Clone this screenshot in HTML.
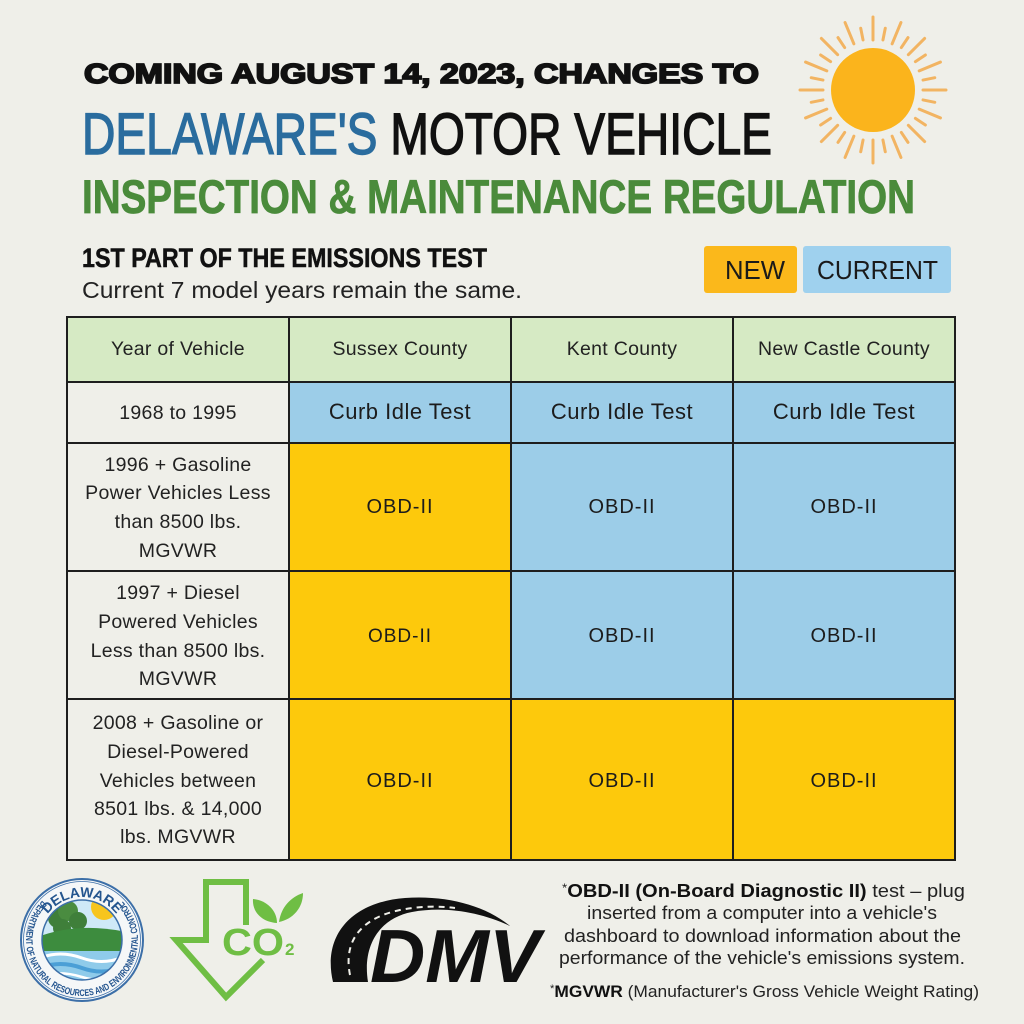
<!DOCTYPE html>
<html><head><meta charset="utf-8">
<style>html,body{margin:0;padding:0;background:#efefe9;}svg{display:block}</style></head>
<body>
<svg width="1024" height="1024" viewBox="0 0 1024 1024" xmlns="http://www.w3.org/2000/svg" font-family="'Liberation Sans', sans-serif">
<defs>
  <clipPath id="inner"><circle cx="82" cy="940" r="40"/></clipPath>
  <path id="sealB" d="M42.4,900.4 A56,56 0 1 0 121.6,900.4"/>
  <path id="sealT" d="M44.8,918.5 A43,43 0 0 1 119.2,918.5"/>
</defs>
<rect width="1024" height="1024" fill="#efefe9"/>

<!-- Titles -->
<text x="84" y="83" font-size="28" font-weight="bold" fill="#111" stroke="#111" stroke-width="1.8" textLength="675" lengthAdjust="spacingAndGlyphs">COMING AUGUST 14, 2023, CHANGES TO</text>
<text x="82" y="154" font-size="58" fill="#111" stroke-width="1.4" textLength="690" lengthAdjust="spacingAndGlyphs"><tspan fill="#2a6c9e" stroke="#2a6c9e">DELAWARE'S</tspan><tspan stroke="#111"> MOTOR VEHICLE</tspan></text>
<text x="82" y="213" font-size="47" font-weight="bold" fill="#4a8b3b" stroke="#4a8b3b" stroke-width="0.8" textLength="833" lengthAdjust="spacingAndGlyphs">INSPECTION &amp; MAINTENANCE REGULATION</text>
<text x="82" y="267" font-size="27" font-weight="bold" fill="#111" stroke="#111" stroke-width="0.5" textLength="405" lengthAdjust="spacingAndGlyphs">1ST PART OF THE EMISSIONS TEST</text>
<text x="82" y="298" font-size="23" fill="#222" textLength="440" lengthAdjust="spacingAndGlyphs">Current 7 model years remain the same.</text>

<!-- Legend -->
<rect x="704" y="246" width="93" height="47" rx="3" fill="#fbb81b"/>
<rect x="803" y="246" width="148" height="47" rx="3" fill="#9fd1ee"/>
<text x="725" y="279" font-size="26" fill="#1a1a1a" textLength="60" lengthAdjust="spacingAndGlyphs">NEW</text>
<text x="817" y="279" font-size="26" fill="#1a1a1a" textLength="121" lengthAdjust="spacingAndGlyphs">CURRENT</text>

<!-- Sun -->
<g stroke="#f2b462" stroke-width="3" stroke-linecap="round">
  <line x1="923" y1="90" x2="946" y2="90" transform="rotate(0 873 90)"/>
  <line x1="923" y1="90" x2="946" y2="90" transform="rotate(22.5 873 90)"/>
  <line x1="923" y1="90" x2="946" y2="90" transform="rotate(45 873 90)"/>
  <line x1="923" y1="90" x2="946" y2="90" transform="rotate(67.5 873 90)"/>
  <line x1="923" y1="90" x2="946" y2="90" transform="rotate(90 873 90)"/>
  <line x1="923" y1="90" x2="946" y2="90" transform="rotate(112.5 873 90)"/>
  <line x1="923" y1="90" x2="946" y2="90" transform="rotate(135 873 90)"/>
  <line x1="923" y1="90" x2="946" y2="90" transform="rotate(157.5 873 90)"/>
  <line x1="923" y1="90" x2="946" y2="90" transform="rotate(180 873 90)"/>
  <line x1="923" y1="90" x2="946" y2="90" transform="rotate(202.5 873 90)"/>
  <line x1="923" y1="90" x2="946" y2="90" transform="rotate(225 873 90)"/>
  <line x1="923" y1="90" x2="946" y2="90" transform="rotate(247.5 873 90)"/>
  <line x1="923" y1="90" x2="946" y2="90" transform="rotate(270 873 90)"/>
  <line x1="923" y1="90" x2="946" y2="90" transform="rotate(292.5 873 90)"/>
  <line x1="923" y1="90" x2="946" y2="90" transform="rotate(315 873 90)"/>
  <line x1="923" y1="90" x2="946" y2="90" transform="rotate(337.5 873 90)"/>
  <line x1="924" y1="90" x2="936" y2="90" transform="rotate(11.25 873 90)"/>
  <line x1="924" y1="90" x2="936" y2="90" transform="rotate(33.75 873 90)"/>
  <line x1="924" y1="90" x2="936" y2="90" transform="rotate(56.25 873 90)"/>
  <line x1="924" y1="90" x2="936" y2="90" transform="rotate(78.75 873 90)"/>
  <line x1="924" y1="90" x2="936" y2="90" transform="rotate(101.25 873 90)"/>
  <line x1="924" y1="90" x2="936" y2="90" transform="rotate(123.75 873 90)"/>
  <line x1="924" y1="90" x2="936" y2="90" transform="rotate(146.25 873 90)"/>
  <line x1="924" y1="90" x2="936" y2="90" transform="rotate(168.75 873 90)"/>
  <line x1="924" y1="90" x2="936" y2="90" transform="rotate(191.25 873 90)"/>
  <line x1="924" y1="90" x2="936" y2="90" transform="rotate(213.75 873 90)"/>
  <line x1="924" y1="90" x2="936" y2="90" transform="rotate(236.25 873 90)"/>
  <line x1="924" y1="90" x2="936" y2="90" transform="rotate(258.75 873 90)"/>
  <line x1="924" y1="90" x2="936" y2="90" transform="rotate(281.25 873 90)"/>
  <line x1="924" y1="90" x2="936" y2="90" transform="rotate(303.75 873 90)"/>
  <line x1="924" y1="90" x2="936" y2="90" transform="rotate(326.25 873 90)"/>
  <line x1="924" y1="90" x2="936" y2="90" transform="rotate(348.75 873 90)"/>
</g>
<circle cx="873" cy="90" r="42" fill="#fbb41c"/>

<!-- Table fills -->
<rect x="67" y="317" width="888" height="65" fill="#d6eac4"/>
<rect x="289" y="382" width="666" height="61" fill="#9ccde8"/>
<rect x="289" y="443" width="222" height="128" fill="#fdc90c"/>
<rect x="511" y="443" width="444" height="128" fill="#9ccde8"/>
<rect x="289" y="571" width="222" height="128" fill="#fdc90c"/>
<rect x="511" y="571" width="444" height="128" fill="#9ccde8"/>
<rect x="289" y="699" width="666" height="161" fill="#fdc90c"/>
<!-- Table grid -->
<g stroke="#1e1e1e" stroke-width="2" fill="none">
  <rect x="67" y="317" width="888" height="543"/>
  <line x1="67" y1="382" x2="955" y2="382"/>
  <line x1="67" y1="443" x2="955" y2="443"/>
  <line x1="67" y1="571" x2="955" y2="571"/>
  <line x1="67" y1="699" x2="955" y2="699"/>
  <line x1="289" y1="317" x2="289" y2="860"/>
  <line x1="511" y1="317" x2="511" y2="860"/>
  <line x1="733" y1="317" x2="733" y2="860"/>
</g>

<!-- Table text -->
<g fill="#222" text-anchor="middle" font-size="19.5" letter-spacing="0.3">
  <text x="178" y="355">Year of Vehicle</text>
  <text x="400" y="355">Sussex County</text>
  <text x="622" y="355">Kent County</text>
  <text x="844" y="355">New Castle County</text>

  <text x="178" y="419">1968 to 1995</text>

  <text x="178" y="471">1996 + Gasoline</text>
  <text x="178" y="499">Power Vehicles Less</text>
  <text x="178" y="528">than 8500 lbs.</text>
  <text x="178" y="557">MGVWR</text>

  <text x="178" y="599">1997 + Diesel</text>
  <text x="178" y="628">Powered Vehicles</text>
  <text x="178" y="657">Less than 8500 lbs.</text>
  <text x="178" y="685">MGVWR</text>

  <text x="178" y="729">2008 + Gasoline or</text>
  <text x="178" y="758">Diesel-Powered</text>
  <text x="178" y="787">Vehicles between</text>
  <text x="178" y="815">8501 lbs. &amp; 14,000</text>
  <text x="178" y="843">lbs. MGVWR</text>
</g>
<g fill="#1c1c1c" text-anchor="middle" font-size="22" letter-spacing="0.5">
  <text x="400" y="419">Curb Idle Test</text>
  <text x="622" y="419">Curb Idle Test</text>
  <text x="844" y="419">Curb Idle Test</text>
</g>
<g fill="#1c1c1c" text-anchor="middle" font-size="20" letter-spacing="1">
  <text x="400" y="513">OBD-II</text>
  <text x="622" y="513">OBD-II</text>
  <text x="844" y="513">OBD-II</text>
  <text x="400" y="642" font-size="19">OBD-II</text>
  <text x="622" y="642">OBD-II</text>
  <text x="844" y="642">OBD-II</text>
  <text x="400" y="787">OBD-II</text>
  <text x="622" y="787">OBD-II</text>
  <text x="844" y="787">OBD-II</text>
</g>

<!-- DNREC seal -->
<circle cx="82" cy="940" r="61" fill="#f5f7f8" stroke="#3c6fa8" stroke-width="2"/>
<circle cx="82" cy="940" r="58.5" fill="none" stroke="#3c6fa8" stroke-width="0.8"/>
<g clip-path="url(#inner)">
  <rect x="40" y="898" width="86" height="86" fill="#cfe9f7"/>
  <circle cx="104" cy="907" r="13" fill="#f7c51e"/>
  <circle cx="58" cy="918" r="10" fill="#3f7f3a"/>
  <circle cx="68" cy="911" r="10" fill="#4a8c40"/>
  <circle cx="78" cy="921" r="9" fill="#3f7f3a"/>
  <circle cx="62" cy="928" r="9" fill="#3f7f3a"/>
  <path d="M40,936 Q80,922 126,932 L126,956 L40,956 Z" fill="#3d8c3e"/>
  <rect x="40" y="951" width="86" height="35" fill="#8fcbea"/>
  <path d="M40,958 Q60,950 82,958 T126,956" stroke="#ffffff" stroke-width="3" fill="none"/>
  <path d="M40,968 Q60,960 82,968 T126,966" stroke="#4b9fd6" stroke-width="4" fill="none"/>
  <path d="M40,976 Q60,970 82,977 T126,975" stroke="#ffffff" stroke-width="2.5" fill="none"/>
</g>
<circle cx="82" cy="940" r="40" fill="none" stroke="#3c6fa8" stroke-width="1.5"/>
<text font-size="9.5" font-weight="bold" fill="#24558f"><textPath href="#sealB" textLength="262" lengthAdjust="spacingAndGlyphs">DEPARTMENT OF NATURAL RESOURCES AND ENVIRONMENTAL CONTROL</textPath></text>
<text font-size="14" font-weight="bold" fill="#24558f" text-anchor="middle"><textPath href="#sealT" startOffset="50%">DELAWARE</textPath></text>

<!-- CO2 logo -->
<polyline points="246,925 246,882 206,882 206,940 176,940 226,997 263,960" fill="none" stroke="#6fbe44" stroke-width="6" stroke-linejoin="miter"/>
<text x="222" y="955" font-size="38" font-weight="bold" fill="#6fbe44" textLength="62" lengthAdjust="spacingAndGlyphs">CO</text>
<text x="285" y="955" font-size="17" font-weight="bold" fill="#6fbe44">2</text>
<path d="M277,923 C262,922 252,912 253,899 C266,900 277,910 277,923 Z" fill="#6fbe44"/>
<path d="M279,922 C281,907 291,897 303,893 C303,908 293,919 279,922 Z" fill="#6fbe44"/>

<!-- DMV logo -->
<path d="M333,982 C322,935 352,902 405,898 C445,895 485,905 510,926 C480,912 445,906 412,912 C380,918 362,945 368,982 Z" fill="#111"/>
<path d="M350,975 C343,940 362,918 400,910 C420,906 440,906 455,908" fill="none" stroke="#efefe9" stroke-width="2" stroke-dasharray="6 5"/>
<text x="370" y="982" font-size="75" font-weight="bold" font-style="italic" fill="#111" textLength="170" lengthAdjust="spacingAndGlyphs">DMV</text>

<!-- Footnotes -->
<g fill="#222" font-size="18">
  <text x="562" y="897" textLength="403" lengthAdjust="spacingAndGlyphs"><tspan font-size="12" dy="-5">*</tspan><tspan dy="5" font-weight="bold" fill="#111">OBD-II (On-Board Diagnostic II)</tspan><tspan> test – plug</tspan></text>
  <text x="587" y="919" textLength="350" lengthAdjust="spacingAndGlyphs">inserted from a computer into a vehicle's</text>
  <text x="564" y="942" textLength="397" lengthAdjust="spacingAndGlyphs">dashboard to download information about the</text>
  <text x="559" y="964" textLength="406" lengthAdjust="spacingAndGlyphs">performance of the vehicle's emissions system.</text>
  <text x="550" y="997" font-size="17" textLength="429" lengthAdjust="spacingAndGlyphs"><tspan font-size="11" dy="-5">*</tspan><tspan dy="5" font-weight="bold" fill="#111">MGVWR</tspan><tspan> (Manufacturer's Gross Vehicle Weight Rating)</tspan></text>
</g>
</svg>
</body></html>
